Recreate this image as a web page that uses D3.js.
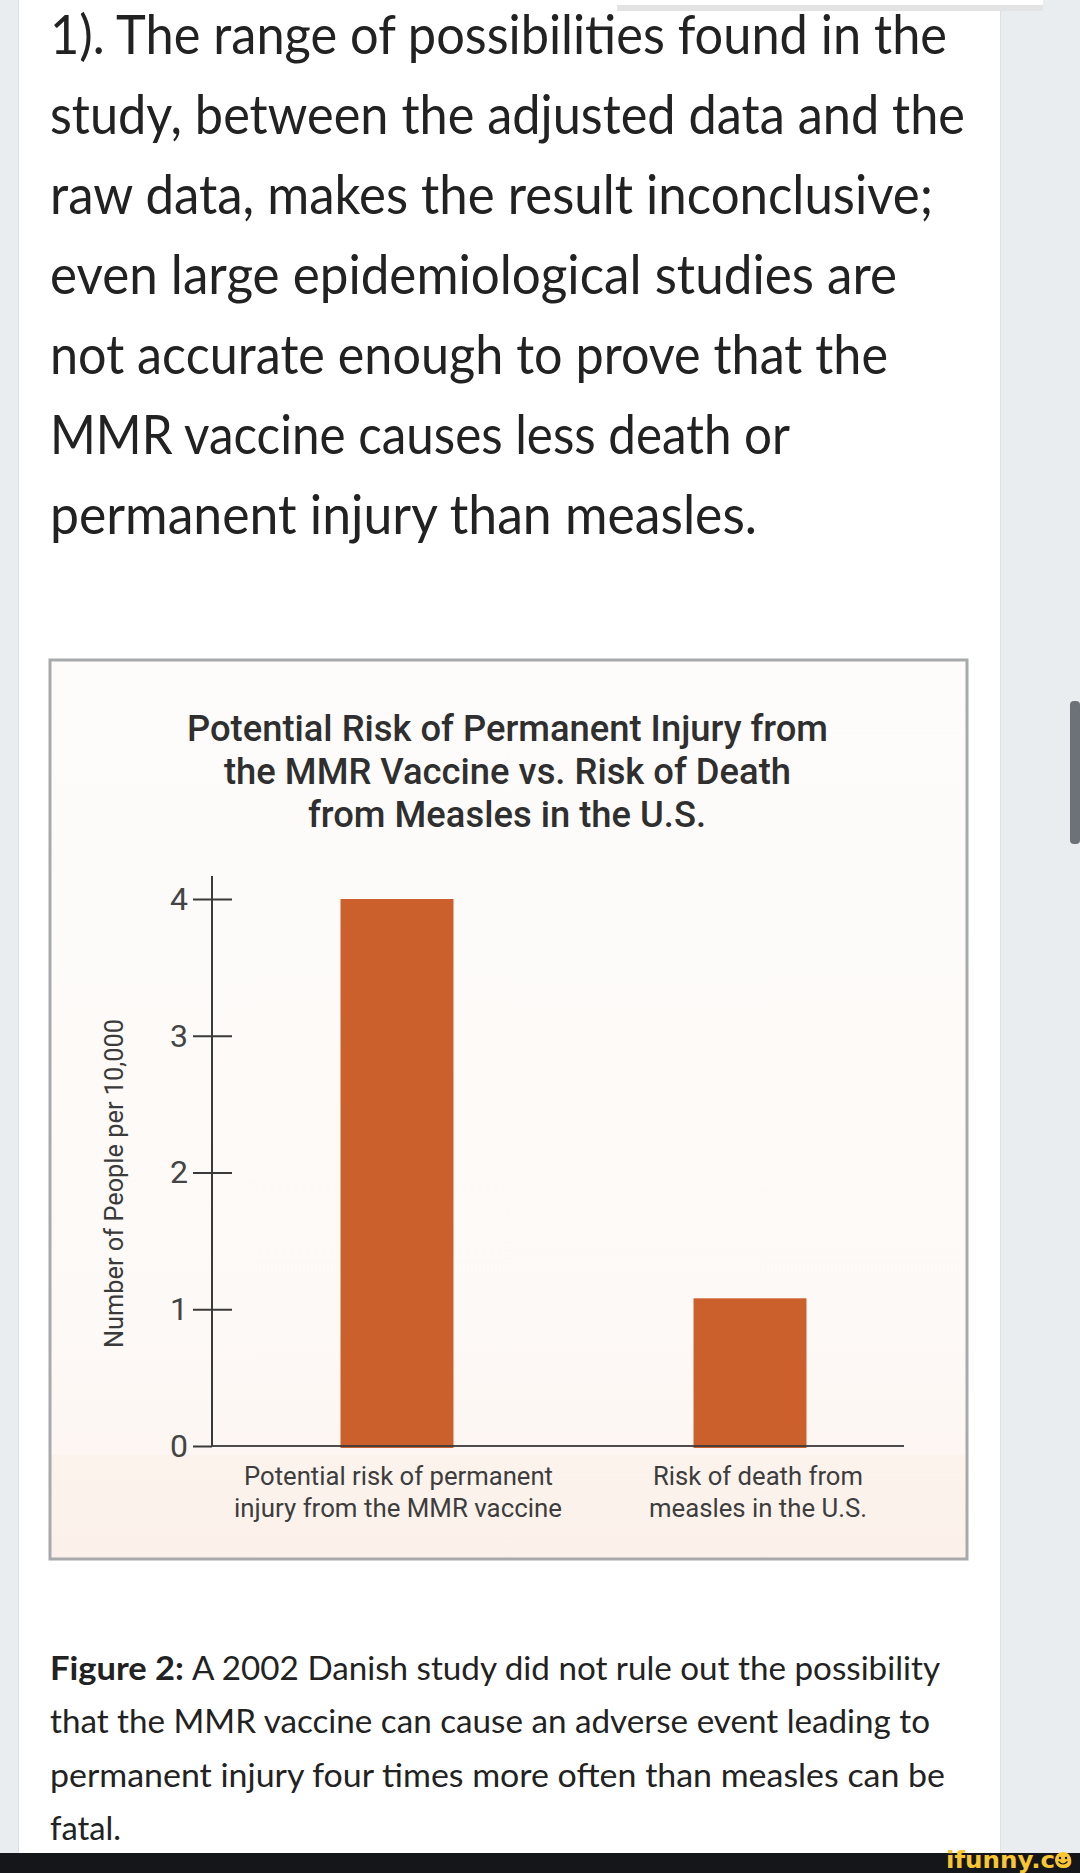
<!DOCTYPE html>
<html><head><meta charset="utf-8">
<script src="https://cdn.jsdelivr.net/npm/d3@7/dist/d3.min.js"></script>
<style>html,body{margin:0;padding:0;background:#e9edf0}svg{display:block}</style>
</head><body><svg id="c" width="1080" height="1873"></svg>
<script>
const categories = ["Potential risk of permanent injury from the MMR vaccine", "Risk of death from measles in the U.S."];
const values = [4, 1.08];
const yTicks = [0, 1, 2, 3, 4];
const yLabel = "Number of People per 10,000";
const titleLines = ["Potential Risk of Permanent Injury from", "the MMR Vaccine vs. Risk of Death", "from Measles in the U.S."];
const categoryLines = [["Potential risk of permanent", "injury from the MMR vaccine"], ["Risk of death from", "measles in the U.S."]];
const bodyLines = ["1). The range of possibilities found in the", "study, between the adjusted data and the", "raw data, makes the result inconclusive;", "even large epidemiological studies are", "not accurate enough to prove that the", "MMR vaccine causes less death or", "permanent injury than measles."];
const captionLead = "Figure 2:";
const captionLines = ["A 2002 Danish study did not rule out the possibility", "that the MMR vaccine can cause an adverse event leading to", "permanent injury four times more often than measles can be", "fatal."];

const svg = d3.select("#c");
const sans = "'Lato','Noto Sans',sans-serif", robo = "Roboto,sans-serif";
function fit(sel, x0, x1){ return sel.attr("x", x0).attr("textLength", x1 - x0).attr("lengthAdjust", "spacingAndGlyphs"); }
function label(txt, x0, x1, base, size, fam, col, wt){
  return fit(svg.append("text").text(txt).attr("y", base).attr("font-size", size).attr("font-family", fam).attr("fill", col).attr("font-weight", wt || 400), x0, x1);
}
// page furniture
svg.append("rect").attr("width",1080).attr("height",1873).attr("fill","#e9edf0");
svg.append("rect").attr("x",19).attr("width",981).attr("height",1873).attr("fill","#fff");
svg.append("rect").attr("x",18).attr("width",1).attr("height",1873).attr("fill","#dde1e4");
svg.append("rect").attr("x",1000).attr("width",1).attr("height",1873).attr("fill","#dde1e4");
svg.append("rect").attr("x",617).attr("width",426).attr("height",5).attr("fill","#fff");
svg.append("rect").attr("x",617).attr("y",5).attr("width",426).attr("height",6).attr("fill","#e3e3e3");
svg.append("rect").attr("x",1070).attr("y",701).attr("width",10).attr("height",143).attr("rx",4).attr("fill","#6d7278");

// body text
const bodyRight = [947,965,933,897,888,790,757];
bodyLines.forEach((t,i)=>label(t,50,bodyRight[i],54+i*80,54,sans,"#222"));

// panel
const defs = svg.append("defs");
const g = defs.append("linearGradient").attr("id","pg").attr("x1",0).attr("y1",0).attr("x2",0).attr("y2",1);
[[0,"#fdfcfb"],[0.75,"#fdf9f6"],[0.883,"#fdf6f2"],[0.885,"#fcf3ed"],[1,"#fbf1ea"]].forEach(s=>g.append("stop").attr("offset",s[0]).attr("stop-color",s[1]));
svg.append("rect").attr("x",50).attr("y",660).attr("width",917).attr("height",899).attr("fill","url(#pg)").attr("stroke","#a8a9ab").attr("stroke-width",3);

// title
const tL=[[187,828],[224,791],[308,706]];
titleLines.forEach((t,i)=>label(t,tL[i][0],tL[i][1],741+i*43,36,robo,"#2f2f2f",500));

// scales
const y = d3.scaleLinear().domain([0,4]).range([1446,899]);
const x = d3.scaleBand().domain(categories).range([220.5,926.5]).paddingInner(0.68).paddingOuter(0.34);

svg.append("g").selectAll("rect").data(values).join("rect")
  .attr("x",(d,i)=>x(categories[i])).attr("width",x.bandwidth())
  .attr("y",d=>y(d)).attr("height",d=>y(0)-y(d)+2).attr("fill","#cb602d");

// y axis
const ax = svg.append("g").attr("transform","translate(212,0)").call(d3.axisLeft(y).tickValues(yTicks).tickFormat(d3.format("d")).tickSize(19).tickPadding(5));
ax.select(".domain").remove();
ax.selectAll(".tick line").attr("stroke","#3a3a3a").attr("stroke-width",2).attr("x2",-19).attr("x1",d=>d===0?0:20);
ax.selectAll(".tick text").attr("font-family",robo).attr("font-size",32).attr("fill","#444").attr("dy","0.32em");
svg.append("line").attr("x1",212).attr("x2",212).attr("y1",876).attr("y2",y(0)).attr("stroke","#3a3a3a").attr("stroke-width",2);
svg.append("line").attr("x1",212).attr("x2",904).attr("y1",y(0)).attr("y2",y(0)).attr("stroke","#3a3a3a").attr("stroke-opacity",.9).attr("stroke-width",2);

// y label
svg.append("text").text(yLabel).attr("transform","translate(123,1348) rotate(-90)")
  .attr("font-family",robo).attr("font-size",26).attr("fill","#3a3a3a").attr("textLength",329).attr("lengthAdjust","spacingAndGlyphs");

// category labels
const cL=[[[244,553],[234,562]],[[653,863],[649,867]]];
categoryLines.forEach((ls,c)=>ls.forEach((t,i)=>label(t,cL[c][i][0],cL[c][i][1],1485+i*32,26,robo,"#3d3d3d")));

// caption
label(captionLead,50,184,1680,33,sans,"#222",700);
const capL=[[192,940],[50,930],[50,945],[50,121]];
captionLines.forEach((t,i)=>label(t,capL[i][0],capL[i][1],[1680,1733,1787,1840][i],33,sans,"#222"));

// footer
svg.append("rect").attr("y",1853).attr("width",1080).attr("height",20).attr("fill","#15161a");
label("ifunny.co",946,1072,1868,23,"'DejaVu Sans',sans-serif","#f8c630",700);
const sm = svg.append("g").attr("transform","translate(1063,1860)");
sm.append("circle").attr("r",8).attr("fill","#f8c630");
sm.selectAll("circle.e").data([-3,3]).join("circle").attr("class","e").attr("cx",d=>d).attr("cy",-2).attr("r",1.2).attr("fill","#15161a");
sm.append("path").attr("d","M-4.5,1.5 Q0,6.5 4.5,1.5").attr("fill","none").attr("stroke","#15161a").attr("stroke-width",1.2);
</script></body></html>
